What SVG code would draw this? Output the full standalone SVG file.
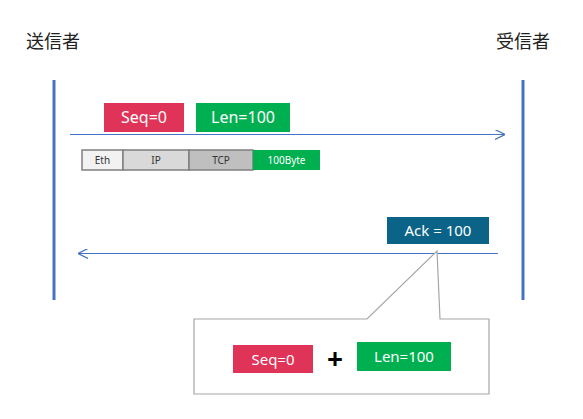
<svg xmlns="http://www.w3.org/2000/svg" width="583" height="419" viewBox="0 0 583 419">
<style>
.t{font-family:"Noto Sans","Noto Sans CJK JP",sans-serif;fill:#fff;text-anchor:middle}
.h{font-family:"Noto Sans CJK JP",sans-serif;font-size:18px;fill:#222}
.pk{stroke:#7f7f7f;stroke-width:1.5}
.pt{font-family:"Noto Sans",sans-serif;font-size:10px;fill:#333;text-anchor:middle}
.life{stroke:#4472c4;stroke-width:3}
.msg{stroke:#4472c4;stroke-width:1.2;fill:none}
</style>
<defs>
<marker id="arr" viewBox="0 0 10 10" refX="10" refY="5" markerWidth="10" markerHeight="10" markerUnits="userSpaceOnUse" orient="auto">
<path d="M0,0 L10,5 L0,10" fill="none" stroke="#4472c4" stroke-width="1.2"/>
</marker>
</defs>
<rect width="583" height="419" fill="#fff"/>
<g id="sender"><text class="h" x="26" y="48">送信者</text><line class="life" x1="54" y1="80" x2="54" y2="300"/></g>
<g id="receiver"><text class="h" x="496" y="48">受信者</text><line class="life" x1="523" y1="80" x2="523" y2="300"/></g>
<g id="connectors">
<line class="msg" x1="70" y1="134.5" x2="505" y2="134.5" marker-end="url(#arr)"/>
<line class="msg" x1="498" y1="253.5" x2="78" y2="253.5" marker-end="url(#arr)"/>
</g>
<g id="seq"><rect x="104" y="103" width="80" height="29" fill="#e03358"/><text class="t" x="144" y="123" font-size="16">Seq=0</text></g>
<g id="len"><rect x="196" y="103" width="94" height="29" fill="#00b050"/><text class="t" x="243" y="123" font-size="16">Len=100</text></g>
<g id="packet">
<rect class="pk" x="82" y="150" width="41" height="20" fill="#f2f2f2"/><text class="pt" x="102.5" y="164">Eth</text>
<rect class="pk" x="123" y="150" width="66" height="20" fill="#d9d9d9"/><text class="pt" x="156" y="164">IP</text>
<rect class="pk" x="189" y="150" width="64" height="20" fill="#bfbfbf"/><text class="pt" x="221" y="164">TCP</text>
<rect x="253" y="150" width="67" height="20" fill="#00b050"/><text class="pt" x="286.5" y="164" style="fill:#fff">100Byte</text>
</g>
<g id="ack"><rect x="387" y="217" width="102" height="27" fill="#0b6488"/><text class="t" x="438" y="236" font-size="15">Ack = 100</text></g>
<g id="callout">
<path d="M194,319 L367,319 L437,251 L440,319 L489,319 L489,394 L194,394 Z" fill="#fff" stroke="#a6a6a6" stroke-width="1.2"/>
<rect x="233" y="345" width="80" height="28" fill="#e03358"/><text class="t" x="273" y="364.5" font-size="15">Seq=0</text>
<text x="335" y="369" font-family="Noto Sans,sans-serif" font-size="28" font-weight="bold" fill="#000" text-anchor="middle">+</text>
<rect x="357" y="342" width="94" height="29" fill="#00b050"/><text class="t" x="404" y="361.5" font-size="15">Len=100</text>
</g>
</svg>
